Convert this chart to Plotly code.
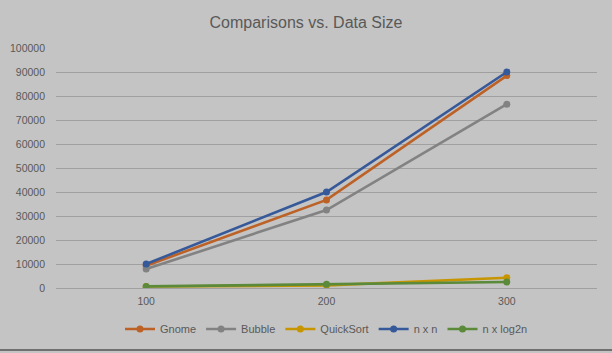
import plotly.graph_objects as go

categories = ["100", "200", "300"]
gnome = [9300, 36700, 88500]
bubble = [7900, 32500, 76600]
quicksort = [600, 1100, 4300]
n_x_n = [10000, 40000, 90000]
n_log2n = [664, 1529, 2469]

series = [
    ("Gnome", gnome, "#bd6226"),
    ("Bubble", bubble, "#828282"),
    ("QuickSort", quicksort, "#c69500"),
    ("n x n", n_x_n, "#36599a"),
    ("n x log2n", n_log2n, "#5a8a3a"),
]

fig = go.Figure()
for name, vals, col in series:
    fig.add_trace(go.Scatter(
        x=categories, y=vals, name=name, mode="lines+markers",
        line=dict(color=col, width=2.6),
        marker=dict(color=col, size=7),
    ))

fig.update_layout(
    width=612, height=353,
    margin=dict(l=56, r=15, t=48, b=65),
    paper_bgcolor="#c4c4c4", plot_bgcolor="#c4c4c4",
    font=dict(family="Liberation Sans, Arial", size=10, color="#595959"),
    title=dict(text="Comparisons vs. Data Size", x=0.5, xanchor="center",
               y=1 - 22 / 353, yanchor="middle",
               font=dict(size=16, color="#595959", family="Liberation Sans Narrow, Liberation Sans")),
    showlegend=True,
    legend=dict(orientation="h", x=0.5, xanchor="center", yref="container",
                y=1 - 329 / 353, yanchor="middle",
                font=dict(size=11, color="#595959"), itemwidth=30, bgcolor="rgba(0,0,0,0)"),
    xaxis=dict(type="category", showgrid=False, zeroline=False, showline=False,
               ticks="", ticklabelstandoff=5, automargin=False,
               tickfont=dict(size=10.5, color="#595959"), range=[-0.5, 2.5]),
    yaxis=dict(range=[0, 100000], dtick=10000, tickformat="d", showgrid=True, gridcolor="#a0a0a0",
               gridwidth=1, zeroline=True, zerolinecolor="#a0a0a0", zerolinewidth=1,
               showline=False, ticks="", ticklabelstandoff=10, automargin=False,
               tickfont=dict(size=10.5, color="#595959")),
)
fig.add_shape(type="line", xref="paper", yref="paper", x0=-56/541, x1=1 + 15/541,
              y0=-62 / 240, y1=-62 / 240,
              line=dict(color="#555555", width=1.5))

fig.write_html("out.html")
